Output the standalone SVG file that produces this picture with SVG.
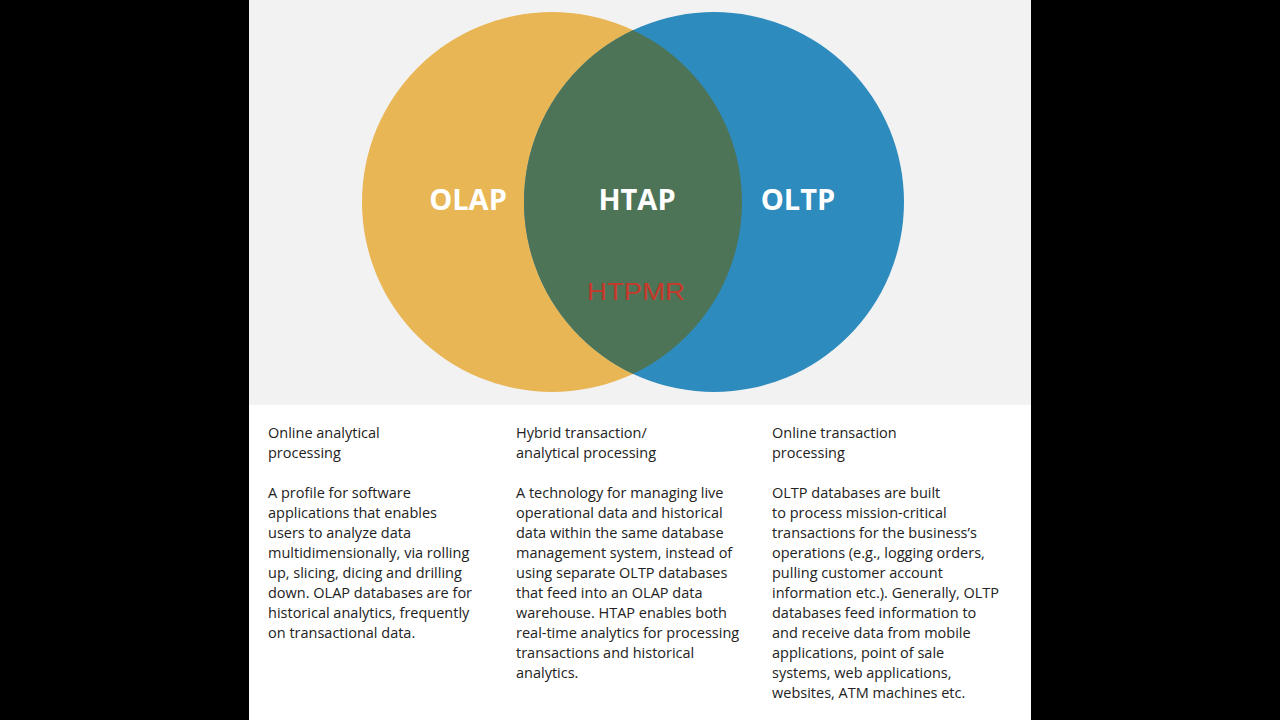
<svg xmlns="http://www.w3.org/2000/svg" width="1280" height="720" viewBox="0 0 1280 720">
<style>
.lbl{font-family:"Open Sans","Noto Sans",sans-serif;font-weight:bold;font-size:29px;fill:#fff;text-anchor:middle}
.t{font-family:"Open Sans","Noto Sans",sans-serif;font-size:14.5px;fill:#222}
</style>
<defs><clipPath id="cl"><circle cx="552" cy="202" r="190"/></clipPath></defs>
<rect width="1280" height="720" fill="#000"/>
<rect x="249" y="0" width="782" height="720" fill="#fff"/>
<rect x="249" y="0" width="782" height="405" fill="#f3f2f3"/>
<g id="olap"><circle cx="552" cy="202" r="190" fill="#e8b654"/><text class="lbl" x="468" y="210">OLAP</text></g>
<g id="oltp"><circle cx="714" cy="202" r="190" fill="#2e8bbd"/><text class="lbl" x="798" y="210">OLTP</text></g>
<g id="htap"><circle cx="714" cy="202" r="190" fill="#4e7458" clip-path="url(#cl)"/><text class="lbl" x="637" y="210">HTAP</text>
<text x="636" y="300" font-family="Liberation Sans Narrow,Liberation Sans,sans-serif" font-size="24" fill="#c8382a" text-anchor="middle" textLength="98" lengthAdjust="spacingAndGlyphs">HTPMR</text></g>
<g id="col1" class="t">
<text x="268" y="438">Online analytical</text><text x="268" y="458">processing</text>
<text x="268" y="498">A profile for software</text><text x="268" y="518">applications that enables</text><text x="268" y="538">users to analyze data</text><text x="268" y="558">multidimensionally, via rolling</text><text x="268" y="578">up, slicing, dicing and drilling</text><text x="268" y="598">down. OLAP databases are for</text><text x="268" y="618">historical analytics, frequently</text><text x="268" y="638">on transactional data.</text>
</g>
<g id="col2" class="t">
<text x="516" y="438">Hybrid transaction/</text><text x="516" y="458">analytical processing</text>
<text x="516" y="498">A technology for managing live</text><text x="516" y="518">operational data and historical</text><text x="516" y="538">data within the same database</text><text x="516" y="558">management system, instead of</text><text x="516" y="578">using separate OLTP databases</text><text x="516" y="598">that feed into an OLAP data</text><text x="516" y="618">warehouse. HTAP enables both</text><text x="516" y="638">real-time analytics for processing</text><text x="516" y="658">transactions and historical</text><text x="516" y="678">analytics.</text>
</g>
<g id="col3" class="t">
<text x="772" y="438">Online transaction</text><text x="772" y="458">processing</text>
<text x="772" y="498">OLTP databases are built</text><text x="772" y="518">to process mission-critical</text><text x="772" y="538">transactions for the business’s</text><text x="772" y="558">operations (e.g., logging orders,</text><text x="772" y="578">pulling customer account</text><text x="772" y="598">information etc.). Generally, OLTP</text><text x="772" y="618">databases feed information to</text><text x="772" y="638">and receive data from mobile</text><text x="772" y="658">applications, point of sale</text><text x="772" y="678">systems, web applications,</text><text x="772" y="698">websites, ATM machines etc.</text>
</g>
<g id="connectors"/>
</svg>
